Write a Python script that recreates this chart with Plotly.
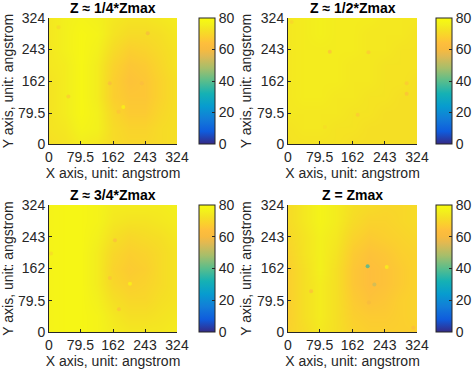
import plotly.graph_objects as go

# ---------------- data ----------------
grid_x = [0, 40.5, 81, 121.5, 162, 202.5, 243, 283.5, 324]
grid_y = [0, 40.5, 81, 121.5, 162, 202.5, 243, 283.5, 324]
tick_vals = [0, 79.5, 162, 243, 324]
tick_text = ["0", "79.5", "162", "243", "324"]
cbar_ticks = [0, 20, 40, 60, 80]

titles = ["Z \u2248 1/4*Zmax", "Z \u2248 1/2*Zmax", "Z \u2248 3/4*Zmax", "Z = Zmax"]

# rows: y = 0 ... 324, columns: x = 0 ... 324
z_quarter = [
    [72, 73, 75, 74, 71, 70, 70, 71, 72],
    [73, 74, 77, 76, 71, 69, 69, 71, 72],
    [73, 75, 78, 76, 70, 67, 67, 70, 72],
    [73, 75, 78, 75, 68, 66, 66, 69, 72],
    [73, 75, 78, 75, 68, 65, 66, 69, 72],
    [74, 75, 78, 75, 69, 66, 67, 70, 73],
    [74, 76, 78, 76, 71, 68, 69, 71, 73],
    [74, 76, 78, 77, 73, 71, 71, 72, 74],
    [74, 76, 77, 76, 74, 73, 73, 74, 75],
]
z_half = [
    [73, 73, 73, 73, 72, 72, 72, 72, 72],
    [73, 74, 74, 73, 73, 72, 72, 72, 72],
    [74, 74, 74, 74, 73, 73, 72, 72, 72],
    [74, 75, 75, 74, 74, 73, 73, 72, 72],
    [74, 75, 75, 75, 74, 74, 73, 73, 72],
    [74, 75, 75, 75, 74, 74, 73, 73, 73],
    [74, 75, 75, 75, 75, 74, 74, 73, 73],
    [74, 75, 76, 75, 75, 74, 74, 74, 73],
    [74, 75, 76, 75, 75, 75, 74, 74, 74],
]
z_three_quarter = [
    [77, 78, 78, 77, 75, 74, 74, 74, 75],
    [77, 78, 78, 77, 74, 72, 72, 73, 74],
    [77, 78, 78, 76, 72, 70, 70, 72, 73],
    [77, 78, 78, 75, 70, 68, 69, 71, 73],
    [77, 78, 78, 75, 69, 67, 68, 71, 73],
    [77, 78, 78, 75, 70, 68, 69, 71, 73],
    [77, 78, 78, 76, 72, 70, 71, 72, 74],
    [77, 78, 78, 77, 74, 73, 73, 74, 75],
    [77, 78, 78, 77, 75, 75, 75, 75, 76],
]
z_max = [
    [69, 71, 74, 72, 69, 68, 68, 68, 68],
    [68, 72, 75, 72, 68, 67, 67, 68, 69],
    [68, 72, 75, 72, 67, 65, 66, 68, 69],
    [68, 72, 75, 72, 66, 64, 65, 67, 69],
    [68, 72, 76, 72, 66, 64, 65, 67, 69],
    [69, 73, 76, 73, 67, 65, 66, 68, 69],
    [70, 73, 76, 74, 69, 67, 68, 69, 70],
    [71, 74, 77, 75, 71, 69, 69, 70, 71],
    [71, 74, 77, 75, 72, 71, 70, 70, 71],
]

# point-like features (defects)
dots_quarter_x = [250, 154, 235, 49, 176, 188, 24]
dots_quarter_y = [285, 156, 156, 122, 83, 95, 300]
dots_quarter_v = [60, 62, 62, 67, 65, 79, 70]

dots_half_x = [105, 202, 298, 298, 175, 93, 9]
dots_half_y = [237, 236, 156, 129, 75, 44, 314]
dots_half_v = [64, 66, 66, 64, 66, 71, 69]

dots_3q_x = [167, 154, 205, 177, 5]
dots_3q_y = [234, 138, 123, 58, 200]
dots_3q_v = [63, 65, 79, 65, 70]

dots_max_x = [200, 217, 248, 203, 58, 315]
dots_max_y = [168, 121, 166, 75, 104, 11]
dots_max_v = [35, 52, 78, 60, 63, 62]

z_sets = [z_quarter, z_half, z_three_quarter, z_max]
dot_sets = [
    (dots_quarter_x, dots_quarter_y, dots_quarter_v),
    (dots_half_x, dots_half_y, dots_half_v),
    (dots_3q_x, dots_3q_y, dots_3q_v),
    (dots_max_x, dots_max_y, dots_max_v),
]

# ---------------- style ----------------
parula = [
    [0.0, "rgb(53,42,135)"], [0.1, "rgb(15,92,221)"], [0.2, "rgb(18,125,216)"],
    [0.3, "rgb(7,156,207)"], [0.4, "rgb(21,177,180)"], [0.5, "rgb(89,189,140)"],
    [0.6, "rgb(165,190,107)"], [0.7, "rgb(225,185,82)"], [0.75, "rgb(247,186,63)"],
    [0.8, "rgb(254,190,60)"], [0.85, "rgb(251,207,46)"], [0.9, "rgb(245,223,36)"],
    [0.95, "rgb(243,240,28)"], [1.0, "rgb(249,251,14)"],
]
W, H = 474, 374
ink = "#262626"
font_family = "Liberation Sans, Arial, sans-serif"

# pixel boxes: (left, right, top, bottom)
boxes = [(49, 177, 18, 144), (288, 417, 18, 144), (49, 177, 205, 332), (288, 417, 205, 332)]
cbar_left = [199, 436, 199, 436]

fig = go.Figure()
layout = dict(
    width=W, height=H, margin=dict(l=0, r=0, t=0, b=0, autoexpand=False),
    paper_bgcolor="white", plot_bgcolor="white",
    font=dict(family=font_family, size=14, color=ink),
    showlegend=False,
)
annotations = []
for k in range(4):
    l, r, t, b = boxes[k]
    cl = cbar_left[k]
    xa = "x" if k == 0 else f"x{k+1}"
    ya = "y" if k == 0 else f"y{k+1}"
    fig.add_trace(go.Heatmap(
        x=grid_x, y=grid_y, z=z_sets[k], zmin=0, zmax=80, zsmooth="best",
        colorscale=parula, xaxis=xa, yaxis=ya, hoverinfo="skip",
        colorbar=dict(
            x=cl / W, xanchor="left", xpad=0, ypad=0,
            y=1 - t / H, yanchor="top", len=(b - t), lenmode="pixels",
            thickness=16, thicknessmode="pixels",
            outlinewidth=1, outlinecolor=ink,
            tickvals=cbar_ticks, ticks="inside", ticklen=3, tickcolor=ink,
            tickfont=dict(size=14, color=ink, family=font_family),
        ),
    ))
    dx, dy, dv = dot_sets[k]
    fig.add_trace(go.Scatter(
        x=dx, y=dy, mode="markers", xaxis=xa, yaxis=ya, hoverinfo="skip",
        marker=dict(size=4, color=dv, cmin=0, cmax=80, colorscale=parula,
                    showscale=False, opacity=0.7, line=dict(width=0)),
    ))
    axis_common = dict(
        range=[0, 324], tickvals=tick_vals, ticktext=tick_text,
        showgrid=False, zeroline=False, showline=True, linecolor=ink, linewidth=1,
        ticks="inside", ticklen=3, tickcolor=ink, mirror=False,
        tickfont=dict(size=14, color=ink, family=font_family),
    )
    layout["xaxis" if k == 0 else f"xaxis{k+1}"] = dict(
        axis_common, domain=[l / W, r / W], anchor=ya,
        title=dict(text="X axis, unit: angstrom", standoff=4,
                   font=dict(size=14, color=ink, family=font_family)),
    )
    layout["yaxis" if k == 0 else f"yaxis{k+1}"] = dict(
        axis_common, domain=[1 - b / H, 1 - t / H], anchor=xa,
        title=dict(text="Y axis, unit: angstrom", standoff=2,
                   font=dict(size=14, color=ink, family=font_family)),
    )
    annotations.append(dict(
        text="<b>" + titles[k] + "</b>", x=(l + r) / 2 / W, y=1 - (t - 10) / H,
        xref="paper", yref="paper", xanchor="center", yanchor="middle",
        showarrow=False, font=dict(size=14, color="black", family=font_family),
    ))
layout["annotations"] = annotations
fig.update_layout(**layout)
# remove the browser's default body margin so the figure sits at the page origin
fig.write_html(
    "out.html",
    config={"displayModeBar": False},
    post_script="document.body.style.margin='0';document.body.style.overflow='hidden';",
)
